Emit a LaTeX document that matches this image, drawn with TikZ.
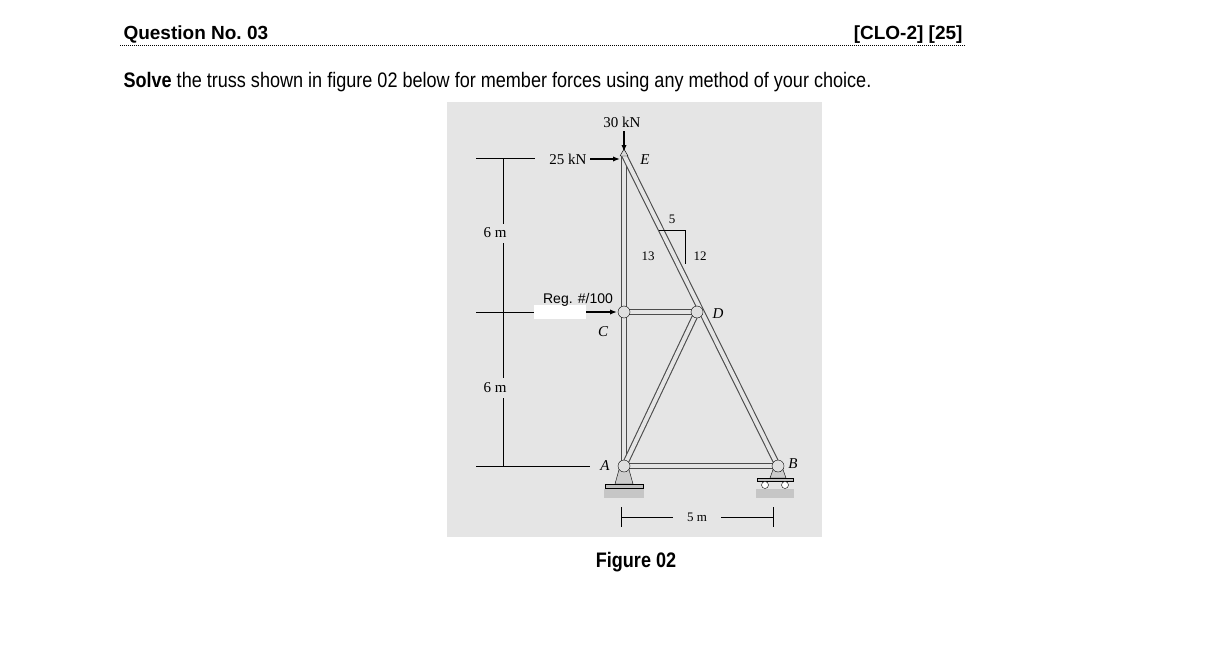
\documentclass[tikz,border=0pt]{standalone}
\usepackage{fontspec}
\setmainfont{Liberation Sans}
\newfontfamily\serifrm{Liberation Serif}
\newfontfamily\narrow[FakeStretch=0.86]{Liberation Sans}
\usetikzlibrary{arrows.meta}
\begin{document}
\begin{tikzpicture}[x=1pt,y=-1pt,
  member/.style={draw=gray!60!black,double=gray!20,double distance=4pt,line width=1.1pt},
  lab/.style={font=\serifrm\fontsize{15}{17}\selectfont},
  sm/.style={font=\serifrm\fontsize{13}{15}\selectfont},
  it/.style={font=\serifrm\itshape\fontsize{15}{17}\selectfont},
  dim/.style={draw=black,line width=0.9pt},
  force/.style={draw=black,line width=1.3pt,-{Latex[length=7pt]}}]
\useasboundingbox (0,0) rectangle (1215,669);
\fill[white] (0,0) rectangle (1215,669);
% header
\node[anchor=base west,font=\bfseries\fontsize{19}{22}\selectfont] (q) at (120,40) {Question\ No.\ 03};
\node[anchor=base east,font=\bfseries\fontsize{19}{22}\selectfont] (clo) at (966,40) {[CLO-2]\ [25]};
\draw[densely dotted,line width=1pt] (120,46) -- (966,46);
\node[anchor=base west,font=\narrow\fontsize{21}{24}\selectfont] (txt) at (120,87) {\textbf{Solve} the truss shown in figure 02 below for member forces using any method of your choice.};
% panel
\fill[gray!20] (447,102) rectangle (822,537);
% coordinates
\coordinate (A) at (624,466);
\coordinate (B) at (778,466);
\coordinate (C) at (624,312);
\coordinate (D) at (697,312);
\coordinate (E) at (624,155);
% supports
\fill[gray!45] (604,489) rectangle (644,498);
\draw[fill=gray!40] (615,484) -- (620,466) -- (628,466) -- (633,484) -- cycle;
\draw[fill=gray!50] (605,484) rectangle (643,488);
\fill[gray!45] (756,489) rectangle (794,498);
\draw[fill=gray!40] (770,478) -- (775,464) -- (781,464) -- (786,478) -- cycle;
\draw[fill=gray!50] (757,478) rectangle (793,481);
\draw[fill=white] (765,485) circle (3.5);
\draw[fill=white] (785,485) circle (3.5);
% members
\draw[member] (A) -- (E);
\draw[member] (E) -- (B);
\draw[member] (C) -- (D);
\draw[member] (A) -- (D);
\draw[member] (A) -- (B);
\foreach \p in {A,B,C,D}{\draw[fill=gray!25] (\p) circle (6);}
\draw[fill=gray!30] (E) ++(-4,1) -- ++(4,-7) -- ++(4,7) -- cycle;
% slope triangle
\draw[line width=0.8pt] (659,230) -- (685,230) -- (685,264);
\node[sm] (s5) at (672,219) {5};
\node[sm] (s12) at (700,256) {12};
\node[sm] (s13) at (648,256) {13};
% loads
\node[lab] (f30) at (622,122) {30 kN};
\coordinate (f30e) at (624,152);
\draw[force] (624,131) -- (f30e);
\node[lab,anchor=east] (f25) at (590,159) {25 kN};
\draw[force] (f25.east) -- (620,159);
\fill[white] (534,305) rectangle (586,319);
\node[font=\fontsize{14}{16}\selectfont] (reg) at (578,300) {Reg. \#/100};
\draw[force] (586,312) -- (617,312);
% letters
\node[it] (lE) at (645,160) {E};
\node[it] (lC) at (603,332) {C};
\node[it] (lD) at (718,314) {D};
\node[it] (lA) at (605,466) {A};
\node[it] (lB) at (793,464) {B};
% dimensions
\draw[dim] (476,158) -- (535,158);
\draw[dim] (476,312) -- (534,312);
\draw[dim] (476,466) -- (590,466);
\draw[dim] (503,158) -- (503,224);
\draw[dim] (503,243) -- (503,378);
\draw[dim] (503,398) -- (503,466);
\node[lab] (d1) at (495,233) {6 m};
\node[lab] (d2) at (495,388) {6 m};
\draw[dim] (621,507) -- (621,527);
\draw[dim] (773,507) -- (773,527);
\draw[dim] (621,517) -- (673,517);
\draw[dim] (721,517) -- (773,517);
\node[sm] (d3) at (697,517) {5 m};
\node[font=\narrow\bfseries\fontsize{21}{24}\selectfont] (fig) at (636,562) {Figure 02};
\end{tikzpicture}
\end{document}
